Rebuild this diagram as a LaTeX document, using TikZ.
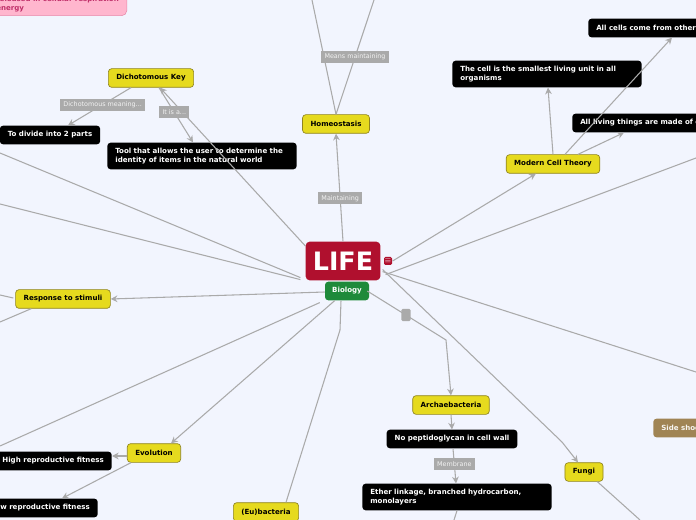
\documentclass[tikz,border=0pt]{standalone}
\usepackage{fontspec}
\setmainfont{DejaVu Sans}
\usetikzlibrary{arrows.meta,calc}
\definecolor{bg}{HTML}{F2F5FE}
\definecolor{ln}{HTML}{AAAAAA}
\definecolor{yel}{HTML}{E6DA1E}
\definecolor{yelb}{HTML}{8F8420}
\definecolor{lifered}{HTML}{B0102E}
\definecolor{biog}{HTML}{1E8A3A}
\definecolor{lab}{HTML}{AAAAAA}
\definecolor{brown}{HTML}{A08454}
\definecolor{pinkf}{HTML}{FFB6CE}
\definecolor{pinkb}{HTML}{E88AAA}
\definecolor{pinkt}{HTML}{C0306A}
\begin{document}
\begin{tikzpicture}[x=0.75pt,y=-0.75pt,
  yelbox/.style={draw=yelb,fill=yel,rounded corners=2.5pt,font=\bfseries\fontsize{5.3}{6.5}\selectfont,text=black,minimum height=14pt,inner xsep=6pt,line width=0.5pt},
  blk/.style={fill=black,rounded corners=2.5pt,font=\bfseries\fontsize{5.3}{6.8}\selectfont,text=white,minimum height=14pt,inner xsep=6pt,align=left},
  lbl/.style={fill=lab,font=\fontsize{4.8}{6}\selectfont,text=white!90!gray,inner xsep=2.5pt,inner ysep=1.5pt,minimum height=9pt},
  con/.style={draw=ln,line width=0.8pt},
  arr/.style={con,-{Stealth[length=5pt,width=5pt]}}]
\fill[bg] (0,0) rectangle (696,520);
\useasboundingbox (0,0) rectangle (696,520);
% nodes
\node[fill=lifered,text=white,rounded corners=3pt,font=\bfseries\fontsize{19}{20}\selectfont,minimum width=56pt,minimum height=29pt] (life) at (343,261) {LIFE};
\node[fill=lifered,rounded corners=1pt,minimum width=6pt,minimum height=6pt,inner sep=0pt,text=white,font=\fontsize{4}{4}\selectfont] (icon) at (388,261) {$\equiv$};
\node[fill=biog,text=white,rounded corners=2.5pt,font=\bfseries\fontsize{5.3}{6.5}\selectfont,minimum width=33pt,minimum height=14pt] (bio) at (347,291) {Biology};
\node[yelbox] (homeo) at (336,124) {Homeostasis};
\node[yelbox] (dk) at (151,78) {Dichotomous Key};
\node[blk,minimum width=73pt] (divide) at (50,135) {To divide into 2 parts};
\node[blk,text width=130pt,minimum height=20pt] (tool) at (202,156) {Tool that allows the user to determine the\\identity of items in the natural world};
\node[yelbox] (mct) at (553,164) {Modern Cell Theory};
\node[blk,text width=130pt,minimum height=20pt] (smallest) at (547,74) {The cell is the smallest living unit in all\\organisms};
\node[blk,anchor=west] (allcells) at (588,28) {All cells come from other cells};
\node[blk,anchor=west] (allliving) at (572,123) {All living things are made of cells};
\node[yelbox] (resp) at (63,299) {Response to stimuli};
\node[yelbox] (evo) at (154,453) {Evolution};
\node[blk,anchor=east] (high) at (112,461) {High reproductive fitness};
\node[blk,anchor=east] (low) at (98,508) {Low reproductive fitness};
\node[yelbox] (eubac) at (266,512) {(Eu)bacteria};
\node[yelbox] (archae) at (451,405) {Archaebacteria};
\node[blk] (nopep) at (452,439) {No peptidoglycan in cell wall};
\node[blk,text width=130pt,minimum height=20pt] (ether) at (457,497) {Ether linkage, branched hydrocarbon,\\monolayers};
\node[yelbox] (fungi) at (584,472) {Fungi};
\node[fill=brown,text=white!92!brown,rounded corners=2.5pt,font=\bfseries\fontsize{5.3}{6.5}\selectfont,minimum height=14pt,inner xsep=6pt,anchor=west] (side) at (653,428) {Side shoots};
\node[fill=pinkf,draw=pinkb,text=pinkt,rounded corners=4pt,font=\bfseries\fontsize{5.3}{6.8}\selectfont,align=left,anchor=south west,inner xsep=6pt,inner ysep=3pt] (pink) at (-12,16) {released in cellular respiration\\energy};
\node[fill=lab,rounded corners=1pt,minimum width=7pt,minimum height=9pt,inner sep=0pt] (sq) at (406,315) {};
% free ends
\coordinate (h1) at (312,0); \coordinate (h2) at (374,0);
\coordinate (l1) at (0,153); \coordinate (l2) at (0,204);
\coordinate (l3) at (0,446);
\coordinate (r1) at (696,158); \coordinate (r2) at (696,372);
\coordinate (rs1) at (0,295); \coordinate (rs2) at (0,322);
\coordinate (eb) at (340,330);
\coordinate (ab) at (446,340);
\coordinate (fb) at (562,442);
\coordinate (e1) at (454,520); \coordinate (f1) at (640,520);
% connectors
\draw[arr] (life.north) -- (homeo.south) node[lbl,pos=0.4] {Maintaining};
\draw[con] (homeo.north) -- (h1);
\draw[con] (homeo.north) -- (h2) node[lbl,pos=0.5] {Means maintaining};
\draw[arr] ($(life.west)+(0,-15)$) -- ($(dk.south)+(9,0)$);
\draw[arr] ($(dk.south)+(8,0)$) -- ($(tool.north)+(-9,0)$) node[lbl,pos=0.45] {It is a...};
\draw[arr] ($(dk.south)+(-20,0)$) -- ($(divide.north)+(18,0)$) node[lbl,pos=0.45] {Dichotomous meaning...};
\draw[con] ($(life.south west)+(-5,-3)$) -- (l1);
\draw[con] ($(life.south west)+(-5,-1)$) -- (l2);
\draw[arr] ($(bio.west)+(0,1)$) -- (resp.east);
\draw[con] ($(resp.west)+(-2,-1)$) -- (rs1);
\draw[con] ($(resp.south west)+(16,0)$) -- (rs2);
\draw[con] ($(bio.south west)+(-5,2)$) -- (l3);
\draw[arr] ($(bio.south west)+(10,0)$) -- ($(evo.north east)+(-10,0)$);
\draw[arr] ($(evo.west)+(0,3)$) -- (high.east |- {$(evo.west)+(0,3)$});
\draw[arr] ($(evo.south west)+(4,0)$) -- ($(low.north east)+(-36,0)$);
\draw[con] ($(bio.south)+(-6,0)$) -- (eb) -- ($(eubac.north)+(20,0)$);
\draw[arr] ($(bio.east)+(-2,0)$) -- (ab) -- (archae.north);
\draw[arr] (archae.south) -- (nopep.north);
\draw[arr] ($(nopep.south)+(1,0)$) -- ($(ether.north)+(-1,0)$) node[lbl,pos=0.45] {Membrane};
\draw[con] (ether.south) -- (e1);
\draw[arr] ($(life.south east)+(2,-11)$) -- (fb) -- ($(fungi.north)+(-6,0)$);
\draw[con] ($(fungi.south east)+(-6,0)$) -- (f1);
\draw[arr] ($(life.east)+(12,0)$) -- ($(mct.south west)+(30,0)$);
\draw[con] ($(life.south east)+(5,-6)$) -- (r1);
\draw[con] ($(life.south east)+(2,-9)$) -- (r2);
\draw[arr] (mct.north) -- ($(smallest.south)+(1,0)$);
\draw[arr] ($(mct.north)+(12,0)$) -- ($(allcells.south west)+(84,0)$);
\draw[arr] ($(mct.north)+(25,0)$) -- ($(allliving.south west)+(52,0)$);
\end{tikzpicture}
\end{document}
